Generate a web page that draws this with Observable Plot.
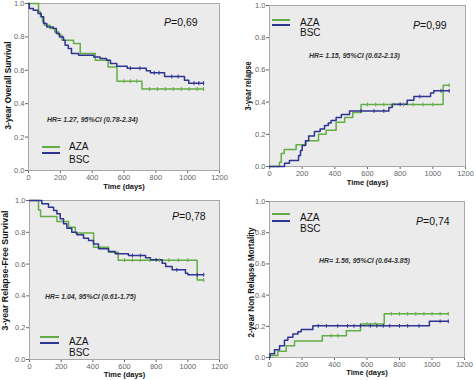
<!DOCTYPE html>
<html><head><meta charset="utf-8">
<script src="https://cdn.jsdelivr.net/npm/d3@7"></script>
<script src="https://cdn.jsdelivr.net/npm/@observablehq/plot@0.6"></script>
<style>
body{margin:0;background:#fff;}
#wrap{position:relative;width:474px;height:380px;overflow:hidden;background:#fff;font-family:"Liberation Sans",Arial,sans-serif;}
.panel{position:absolute;width:237px;height:190px;}
.panel svg{overflow:visible;}
.ann{position:absolute;white-space:nowrap;line-height:1;transform:translateY(-50%);}
.sw{position:absolute;height:2px;}
</style>
</head><body><div id="wrap"></div>
<script>
// ---------- data ----------
const groups = ["AZA", "BSC"];
const colors = ["#63ad46", "#2f3391"];
const xTicks = [0, 200, 400, 600, 800, 1000, 1200];
const yTicks = [0, 0.2, 0.4, 0.6, 0.8, 1.0];

const titles = ["3-year Overall Survival", "3-year relapse", "3-year Relapse-Free Survival", "2-year Non Relapse Mortality"];
const xTitle = "Time (days)";
const pValues = ["0,69", "0,99", "0,78", "0,74"];
const hrTexts = ["HR= 1.27, 95%CI (0.78-2.34)", "HR= 1.15, 95%CI (0.62-2.13)", "HR= 1.04, 95%CI (0.61-1.75)", "HR= 1.56, 95%CI (0.64-3.85)"];

// Panel 1: overall survival
const osAzaT = [0, 63, 75, 88, 100, 135, 165, 190, 210, 283, 325, 420, 500, 556, 713, 1100];
const osAzaV = [1.0, 0.95, 0.92, 0.89, 0.87, 0.85, 0.83, 0.81, 0.78, 0.76, 0.70, 0.66, 0.62, 0.535, 0.488, 0.488];
const osBscT = [0, 5, 30, 60, 80, 95, 115, 155, 175, 195, 220, 230, 250, 270, 315, 410, 450, 490, 515, 555, 620, 740, 766, 855, 980, 1007, 1100];
const osBscV = [1.0, 0.97, 0.96, 0.94, 0.92, 0.88, 0.86, 0.85, 0.82, 0.80, 0.78, 0.75, 0.73, 0.70, 0.69, 0.68, 0.67, 0.66, 0.64, 0.625, 0.612, 0.598, 0.585, 0.563, 0.54, 0.523, 0.523];
const osAzaCens = [600, 640, 680, 760, 810, 860, 910, 960, 1010, 1060, 1100];
const osBscCens = [640, 700, 790, 820, 900, 940, 1040, 1070, 1100];

// Panel 2: relapse
const reAzaT = [0, 61, 72, 90, 163, 224, 300, 347, 408, 460, 510, 561, 1063, 1100];
const reAzaV = [0, 0.027, 0.08, 0.105, 0.135, 0.16, 0.20, 0.225, 0.275, 0.305, 0.335, 0.385, 0.505, 0.505];
const reBscT = [0, 92, 122, 178, 190, 200, 220, 240, 275, 310, 337, 360, 377, 408, 440, 490, 731, 751, 843, 884, 986, 1006, 1100];
const reBscV = [0, 0.02, 0.037, 0.068, 0.10, 0.13, 0.16, 0.19, 0.217, 0.233, 0.254, 0.27, 0.285, 0.305, 0.323, 0.345, 0.367, 0.387, 0.412, 0.435, 0.456, 0.47, 0.47];
const reAzaCens = [600, 650, 700, 760, 820, 880, 940, 1000, 1100];
const reBscCens = [560, 640, 700, 800, 920, 1050, 1100];

// Panel 3: relapse-free survival
const rfAzaT = [0, 57, 70, 173, 247, 289, 405, 499, 560, 1059, 1100];
const rfAzaV = [1.0, 0.94, 0.90, 0.868, 0.832, 0.795, 0.706, 0.675, 0.625, 0.50, 0.50];
const rfBscT = [0, 78, 120, 152, 173, 194, 215, 236, 267, 299, 341, 373, 404, 436, 499, 541, 625, 733, 764, 838, 860, 901, 985, 1000, 1100];
const rfBscV = [1.0, 0.979, 0.958, 0.937, 0.916, 0.885, 0.853, 0.826, 0.801, 0.784, 0.763, 0.748, 0.727, 0.696, 0.679, 0.665, 0.654, 0.64, 0.627, 0.605, 0.585, 0.564, 0.543, 0.533, 0.533];
const rfAzaCens = [600, 650, 700, 760, 820, 880, 940, 1000, 1100];
const rfBscCens = [650, 700, 800, 930, 1060, 1100];

// Panel 4: non relapse mortality
const nrAzaT = [0, 5, 51, 103, 154, 325, 473, 560, 706, 1100];
const nrAzaV = [0, 0.013, 0.04, 0.076, 0.106, 0.14, 0.172, 0.215, 0.28, 0.28];
const nrBscT = [0, 3, 31, 62, 92, 113, 144, 175, 195, 267, 984, 1100];
const nrBscV = [0, 0.024, 0.05, 0.076, 0.11, 0.13, 0.15, 0.165, 0.18, 0.203, 0.232, 0.232];
const nrAzaCens = [380, 420, 600, 650, 750, 800, 850, 900, 950, 1000, 1050, 1100];
const nrBscCens = [300, 350, 420, 480, 520, 560, 620, 660, 700, 740, 800, 850, 920, 1050, 1100];

// ---------- layout (positions / sizes only) ----------
const layout = [
  {left: 0, top: 0, m: [3, 18, 20, 28], tdx: -20, tdy: -1.5, tsize: 9, tlen: 88, xdy: 16,
   p: [164, 22], hr: [47, 119], sw: [42, 60, 147, 153], lt: [69, 147, 160]},
  {left: 237, top: 0, m: [5, 9, 24, 32], tdx: -21, tdy: 0, tsize: 9, tlen: 49, xdy: 16,
   p: [413, 25], hr: [309, 55], sw: [272, 290, 20, 25], lt: [300, 23, 33]},
  {left: 0, top: 190, m: [10, 18, 21, 29], tdx: -24, tdy: -9.5, tsize: 8.8, tlen: 120, xdy: 15,
   p: [172, 216], hr: [45, 296], sw: [40, 59, 337, 343], lt: [69, 342, 353]},
  {left: 237, top: 190, m: [11, 10, 23, 32], tdx: -18, tdy: 3, tsize: 9, tlen: 110, xdy: 15,
   p: [416, 221], hr: [319, 260], sw: [272, 290, 214, 221], lt: [300, 218, 229]}
];

function rows(ts, vs, g) { return ts.map((t, i) => ({t, v: vs[i], g})); }
function stepAt(ts, vs, t) { let k = 0; for (let i = 0; i < ts.length; i++) if (ts[i] <= t) k = i; return vs[k]; }
function cens(times, ts, vs, g) { return times.map(t => ({t, v: stepAt(ts, vs, t), g})); }

const panels = [
  [[osAzaT, osAzaV, osAzaCens], [osBscT, osBscV, osBscCens]],
  [[reAzaT, reAzaV, reAzaCens], [reBscT, reBscV, reBscCens]],
  [[rfAzaT, rfAzaV, rfAzaCens], [rfBscT, rfBscV, rfBscCens]],
  [[nrAzaT, nrAzaV, nrAzaCens], [nrBscT, nrBscV, nrBscCens]]
];

const wrap = document.getElementById("wrap");

panels.forEach((series, k) => {
  const L = layout[k];
  const lineData = series.flatMap((s, j) => rows(s[0], s[1], groups[j]));
  const censData = series.flatMap((s, j) => cens(s[2], s[0], s[1], groups[j]));
  const chart = Plot.plot({
    width: 237, height: 190,
    marginTop: L.m[0], marginRight: L.m[1], marginBottom: L.m[2], marginLeft: L.m[3],
    style: {background: "transparent", fontFamily: "'Liberation Sans',Arial,sans-serif", fontSize: "7.5px", color: "#666", overflow: "visible"},
    x: {domain: [0, 1200], ticks: xTicks, tickFormat: d => String(d), label: null, tickSize: 3, tickPadding: 1, line: true},
    y: {domain: [0, 1], ticks: yTicks, tickFormat: d3.format(".1f"), label: null, tickSize: 3, tickPadding: 1, line: true},
    color: {domain: groups, range: colors},
    marks: [
      Plot.frame({fill: "#ebebeb", stroke: "#a8a8a8"}),
      Plot.line(lineData, {x: "t", y: "v", z: "g", stroke: "g", curve: "step-after", strokeWidth: 1.5}),
      Plot.link(censData, {x1: "t", x2: "t", y1: d => d.v - 0.012, y2: d => d.v + 0.012, stroke: "g", strokeWidth: 1}),
      Plot.text([titles[k]], {frameAnchor: "left", text: d => d, rotate: -90, dx: L.tdx, dy: L.tdy, fill: "#111", textAnchor: "middle", lineAnchor: "middle", fontWeight: "bold", fontSize: L.tsize}),
      Plot.text([xTitle], {frameAnchor: "bottom", text: d => d, dy: L.xdy, fill: "#111", textAnchor: "middle", lineAnchor: "middle", fontWeight: "bold", fontSize: 7.5})
    ]
  });
  const div = document.createElement("div");
  div.className = "panel";
  div.style.left = L.left + "px";
  div.style.top = L.top + "px";
  div.appendChild(chart);
  wrap.appendChild(div);
  chart.querySelectorAll("text").forEach(t => {
    if (t.textContent === titles[k]) {
      t.setAttribute("textLength", L.tlen);
      t.setAttribute("lengthAdjust", "spacingAndGlyphs");
    }
  });

  // P value
  const p = document.createElement("div");
  p.className = "ann";
  p.style.cssText = `left:${L.p[0]}px;top:${L.p[1]}px;font-size:10.5px;color:#111;`;
  p.innerHTML = "<i>P</i>=" + pValues[k];
  wrap.appendChild(p);
  // HR
  const hr = document.createElement("div");
  hr.className = "ann";
  hr.style.cssText = `left:${L.hr[0]}px;top:${L.hr[1]}px;font-size:7px;font-weight:bold;font-style:italic;color:#333;`;
  hr.textContent = hrTexts[k];
  wrap.appendChild(hr);
  // legend
  groups.forEach((g, j) => {
    const sw = document.createElement("div");
    sw.className = "sw";
    sw.style.cssText = `left:${L.sw[0]}px;width:${L.sw[1] - L.sw[0]}px;top:${L.sw[2 + j] - 1}px;background:${colors[j]};`;
    wrap.appendChild(sw);
    const lt = document.createElement("div");
    lt.className = "ann";
    lt.style.cssText = `left:${L.lt[0]}px;top:${L.lt[1 + j]}px;font-size:10px;color:#111;`;
    lt.textContent = g;
    wrap.appendChild(lt);
  });
});
</script>
</body></html>
